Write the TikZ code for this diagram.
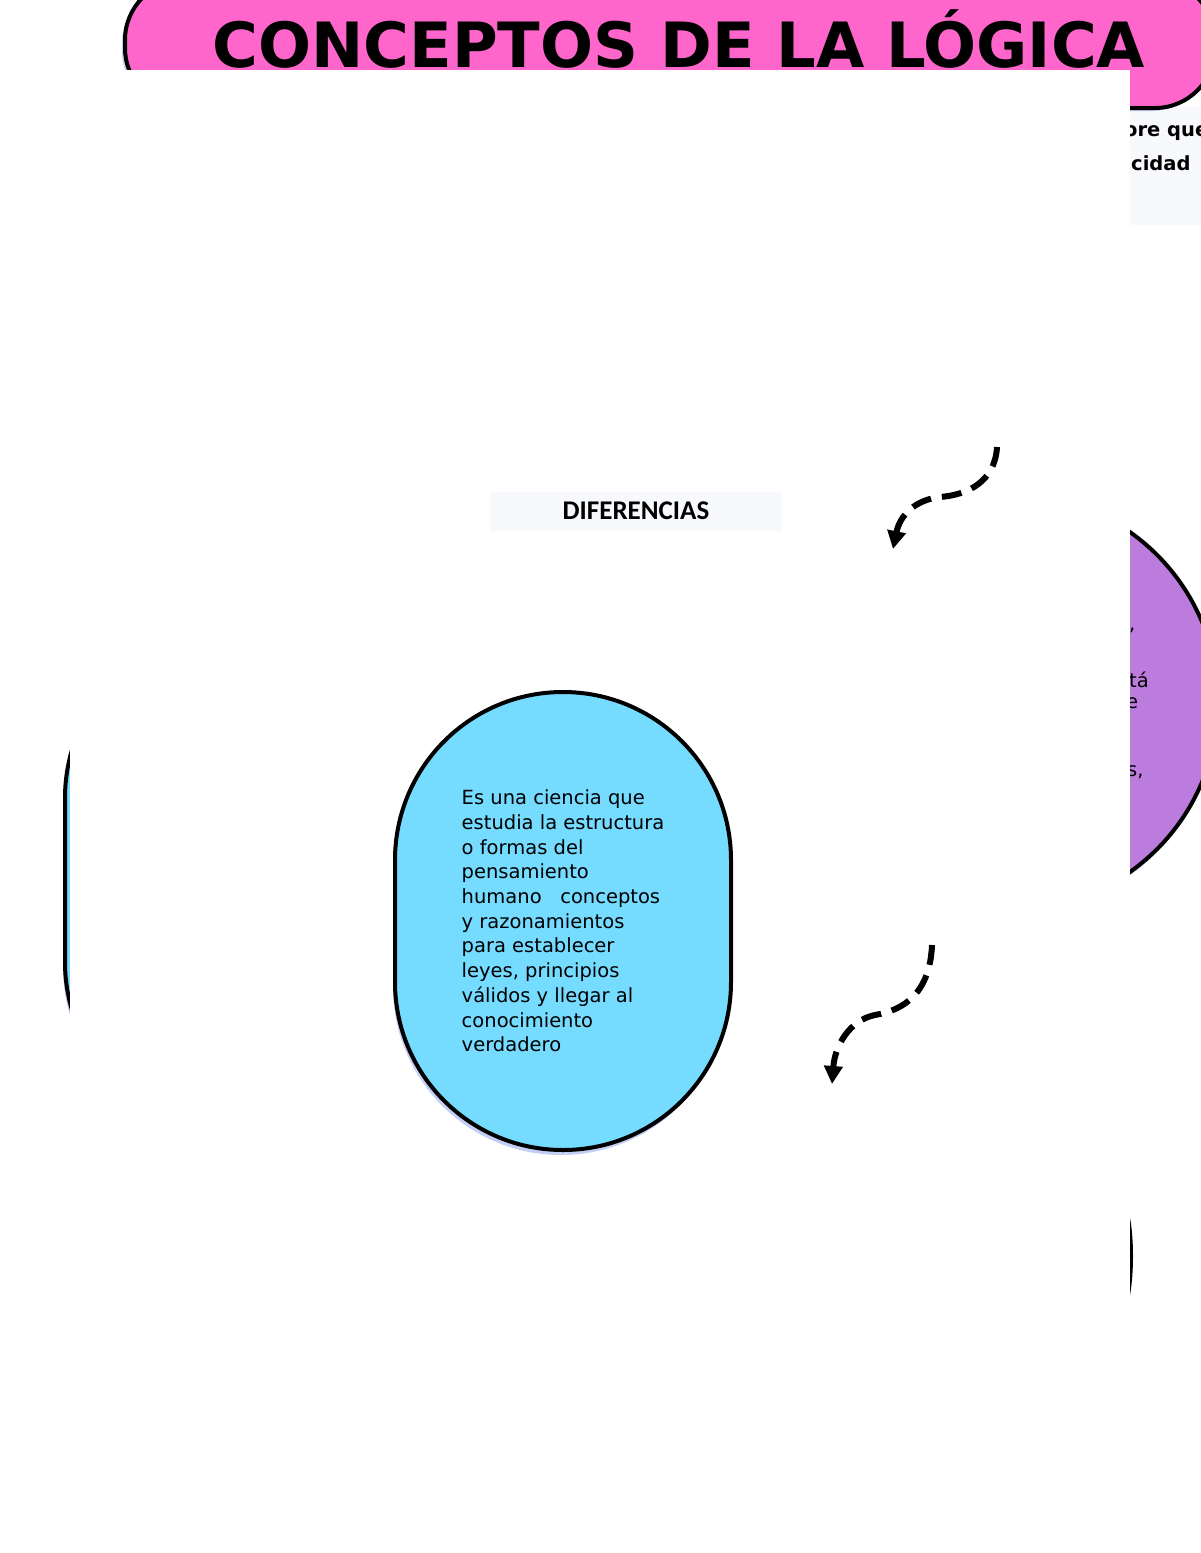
\documentclass[tikz,border=0pt]{standalone}
\usepackage{fontspec}
\setmainfont{DejaVu Sans}
\newfontfamily\calibri{Carlito}
\usetikzlibrary{arrows.meta, shadows}
\definecolor{pinkfill}{RGB}{255,102,204}
\definecolor{lilac}{RGB}{188,124,222}
\definecolor{skyfill}{RGB}{117,219,255}
\definecolor{paper}{RGB}{248,249,252}
\definecolor{haze}{RGB}{197,206,245}

\begin{document}
\begin{tikzpicture}[
x = 1pt, y = -1pt,
  blob/.style = {draw, line width=4pt, fill=skyfill, rounded corners=168pt,
                 minimum width=336pt, minimum height=458pt, inner sep=0pt, align=left,
                 font=\fontsize{19.5}{24.7}\selectfont,
                 drop shadow={shadow xshift=-2pt, shadow yshift=-5pt, fill=haze, opacity=1}},
 strip/.style = {fill=paper, inner sep=0pt},
  frag/.style = {anchor=base west, inner sep=0pt, font=\fontsize{19.5}{24.7}\selectfont},
     > = {Triangle[length=18pt, width=18pt]},
wiggle/.style = {->, line width=6pt, dash pattern=on 20pt off 11pt},
    ]
\path[use as bounding box, fill=white] (0,0) rectangle (1200,1553);
\node (n2) [strip, minimum width=200pt, minimum height=118pt] at (1115,166) {};
\node (n3) [anchor=base west, inner sep=0pt, align=left,
            font=\bfseries\fontsize{19.5}{34}\selectfont] at (1124,170)
           {ore que\\\hspace*{7pt}cidad};
\node (n1) [draw, line width=4pt, fill=pinkfill, rounded corners=60pt,
            minimum width=1090pt, minimum height=128pt, text depth=10pt,
            font=\bfseries\fontsize{62.4}{62.4}\selectfont,
            drop shadow={shadow xshift=-3pt, shadow yshift=-3pt, fill=haze, opacity=1}]
           at (670,44) {\hspace*{18pt}CONCEPTOS DE LA LÓGICA};
\node (n4) [circle, draw, line width=4pt, fill=lilac, minimum size=416pt,
            drop shadow={shadow xshift=-2pt, shadow yshift=-5pt, fill=haze, opacity=1}]
           at (1010,702) {};
\node (n5) [frag] at (1129,630) {,};
\node (n6) [frag] at (1129,687) {tá};
\node (n7) [frag] at (1126,708) {e};
\node (n8) [frag] at (1127,776) {s,};
\node (n9) [blob, minimum height=500pt] at (233,880) {};
\draw[line width=4pt] (1128,1218) .. controls (1132,1240) and (1132,1272) .. (1128,1295);
%
\fill[white] (70,70) rectangle (1130,1553);
\node (n10) [strip, minimum width=292pt, minimum height=39pt,
             font=\calibri\bfseries\fontsize{27}{27}\selectfont] at (636,511) {DIFERENCIAS};
\node (n11) [blob] at (563,921)
  {Es una ciencia que\\estudia la estructura\\o formas del\\pensamiento\\
   humano\ \ \ conceptos\\y razonamientos\\para establecer\\leyes, principios\\
   válidos y llegar al\\conocimiento\\verdadero};
\coordinate (a1) at (997,447);
\coordinate (a2) at (893,549);
\coordinate (a3) at (932,945);
\coordinate (a4) at (832,1084);
\draw[wiggle] (a1) .. controls (995,482) and (967,495) .. (940,497)
                   .. controls (915,500) and (900,515) .. (a2);
\draw[wiggle] (a3) .. controls (930,992) and (905,1010) .. (875,1015)
                   .. controls (850,1020) and (835,1045) .. (a4);
\end{tikzpicture}
\end{document}
